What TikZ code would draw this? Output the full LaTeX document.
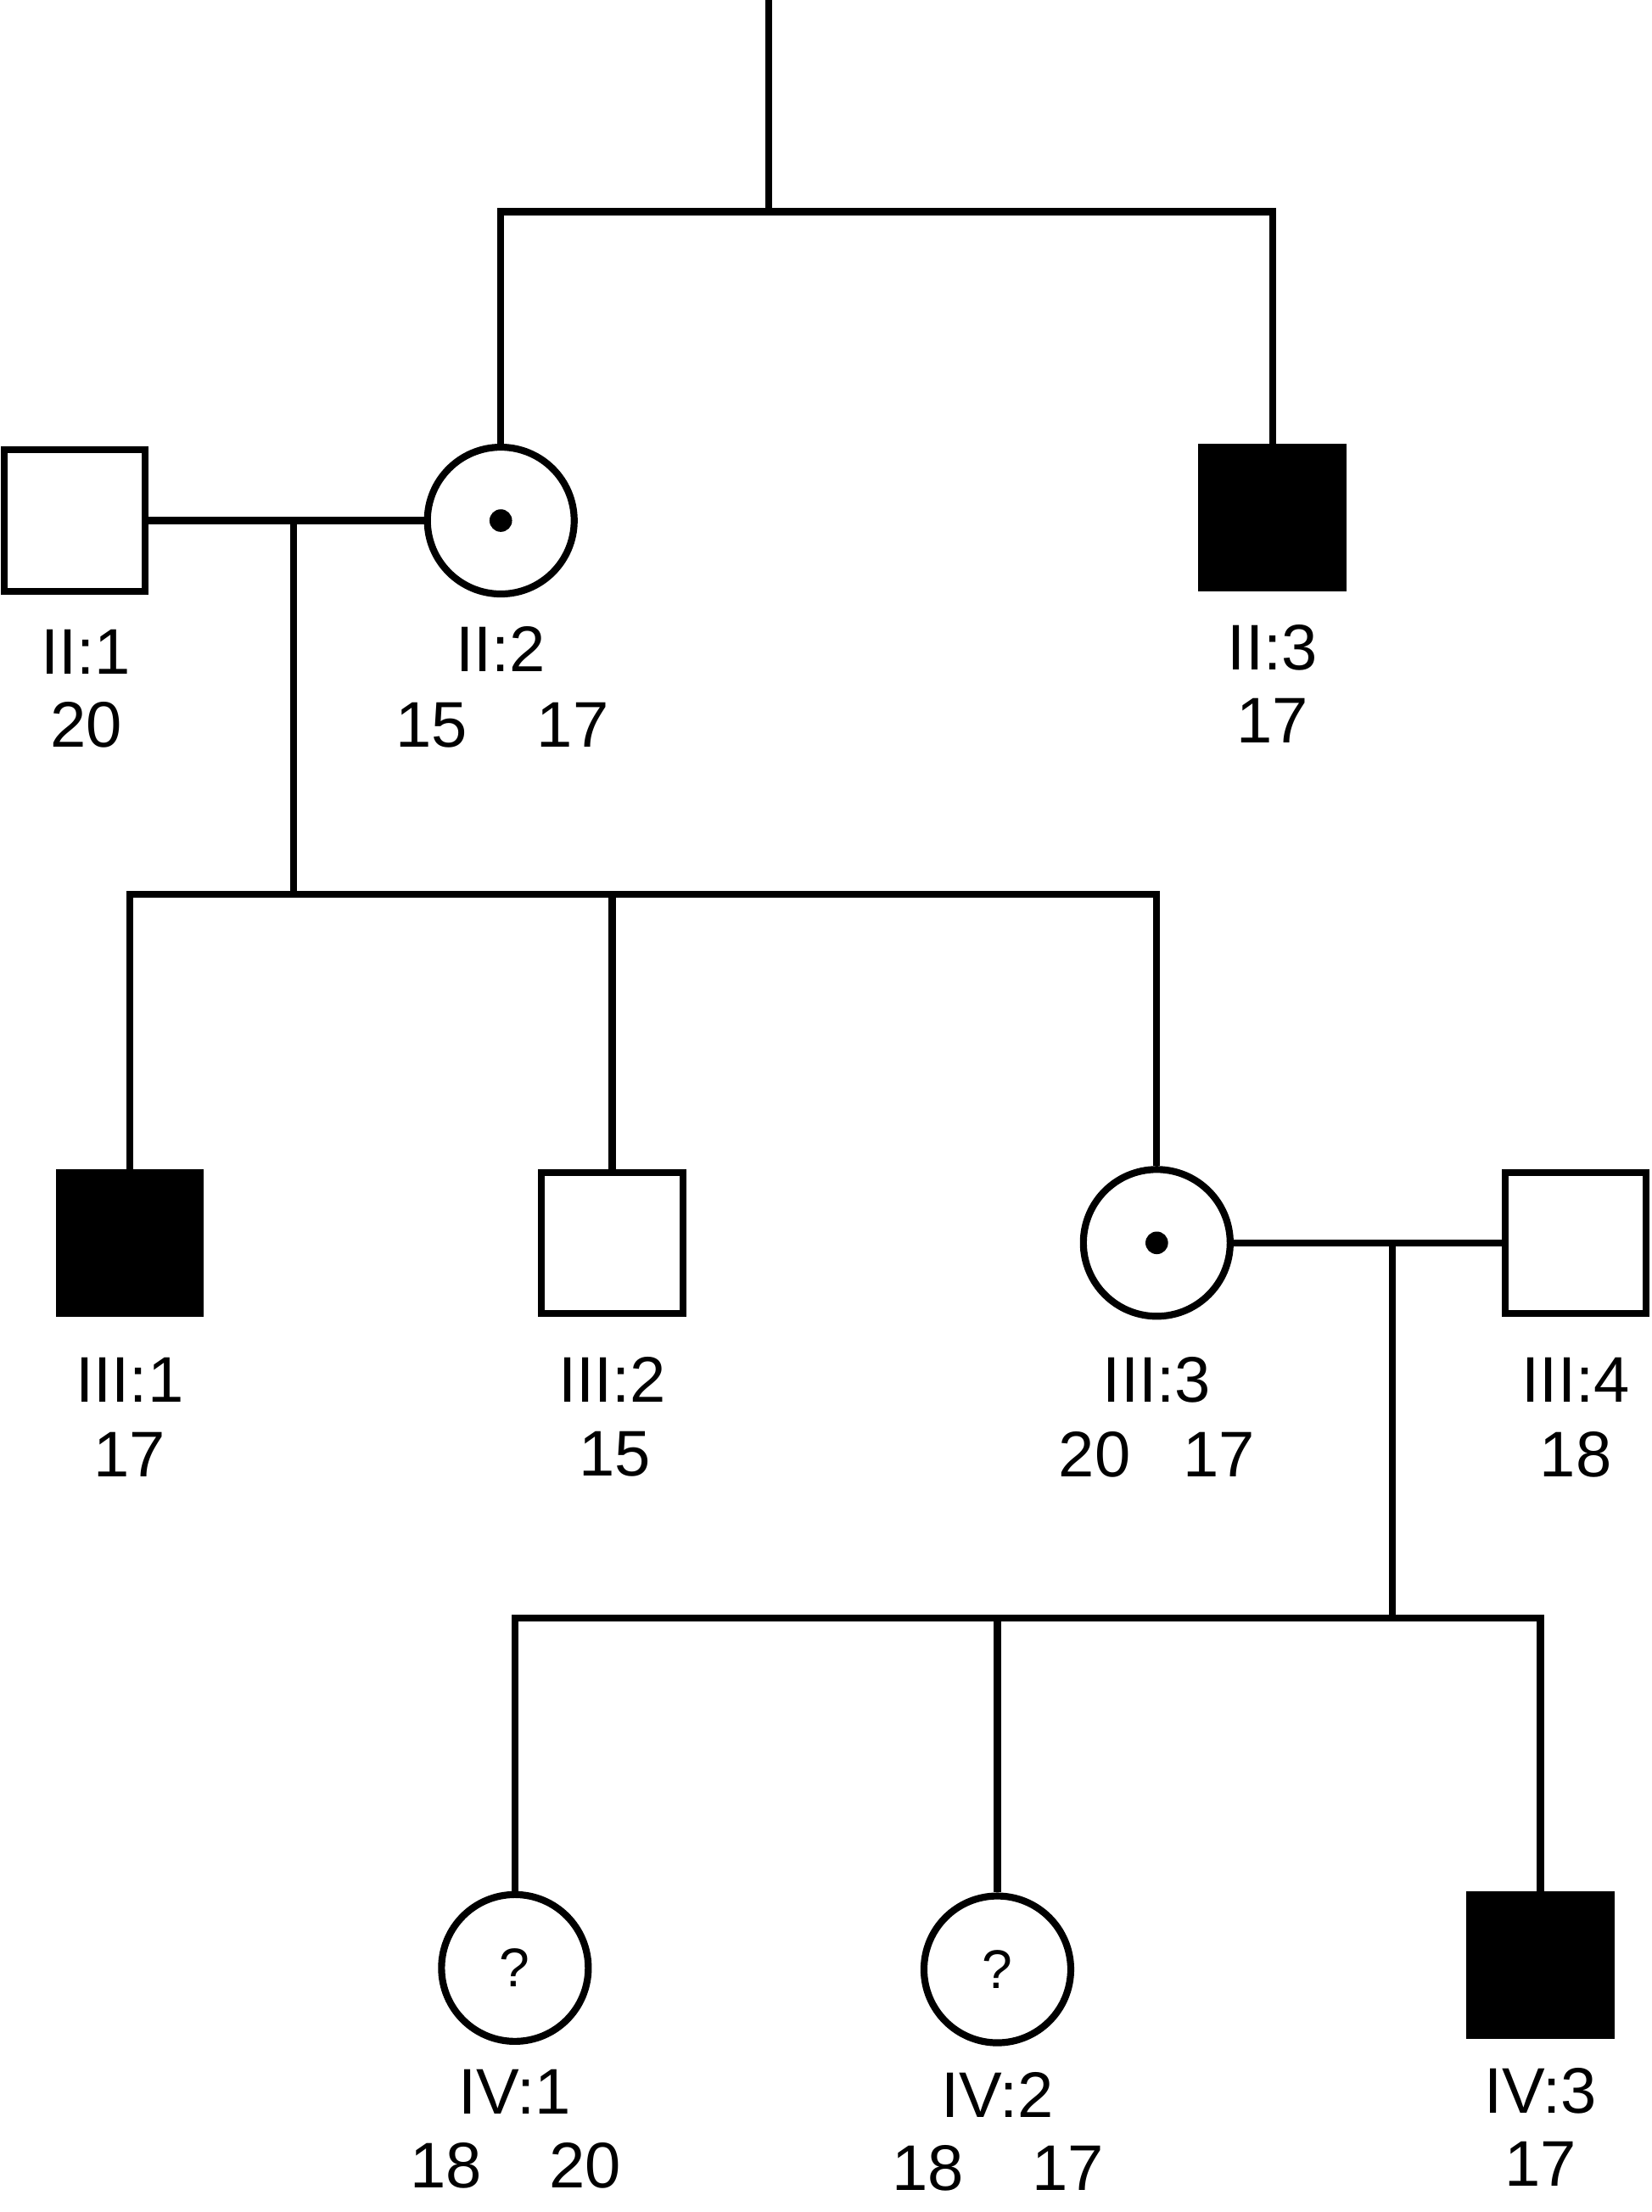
\documentclass[tikz,border=0pt]{standalone}
\usepackage{fontspec}
\setmainfont{Liberation Sans}
\usepackage{tikz}

\begin{document}
\begin{tikzpicture}
  [x=0.01cm,y=-0.01cm,line width=1.4pt,
   male/.style={rectangle,draw,minimum size=1.0cm,inner sep=0pt},
   aff/.style={male,fill=black},
   fem/.style={circle,draw,minimum size=1.04cm,inner sep=0pt,font=\fontsize{11}{13}\selectfont},
   lab/.style={inner sep=0pt,font=\fontsize{13}{15}\selectfont}]
  \useasboundingbox (0,0) rectangle (1171,1568);

  \node[male] (p21) at (53,369) {};
  \node[fem] (p22) at (355,369) {};
  \node[aff] (p23) at (902,367) {};
  \node[aff] (p31) at (92,881) {};
  \node[male] (p32) at (434,881) {};
  \node[fem] (p33) at (820,881) {};
  \node[male] (p34) at (1117,881) {};
  \node[fem] (p41) at (365,1395) {?};
  \node[fem] (p42) at (707,1396) {?};
  \node[aff] (p43) at (1092,1393) {};

  \fill (p22.center) circle (0.08cm);
  \fill (p33.center) circle (0.08cm);

  \coordinate (top) at (545,0);
  \coordinate (s1) at (545,150);
  \coordinate (s1l) at (355,150);
  \coordinate (s1r) at (902,150);
  \coordinate (m1) at (208,369);
  \coordinate (s2) at (208,634);
  \coordinate (s2l) at (92,634);
  \coordinate (s2m) at (434,634);
  \coordinate (s2r) at (820,634);
  \coordinate (m2) at (987,881);
  \coordinate (s3) at (987,1147);
  \coordinate (s3l) at (365,1147);
  \coordinate (s3m) at (707,1147);
  \coordinate (s3r) at (1092,1147);

  \draw (top) -- (s1);
  \draw (p22) -- (s1l) -- (s1r) -- (p23);
  \draw (p21) -- (p22);
  \draw (m1) -- (s2);
  \draw (p31) -- (s2l) -- (s2r) -- (p33);
  \draw (s2m) -- (p32);
  \draw (p33) -- (p34);
  \draw (m2) -- (s3);
  \draw (p41) -- (s3l) -- (s3r) -- (p43);
  \draw (s3m) -- (p42);

  \node[lab] (l21) at (61,462) {II:1};
  \node[lab] (n21) at (61,514) {20};
  \node[lab] (l22) at (355,460) {II:2};
  \node[lab] (n22a) at (306,514) {15};
  \node[lab] (n22b) at (406,514) {17};
  \node[lab] (l23) at (902,459) {II:3};
  \node[lab] (n23) at (902,511) {17};
  \node[lab] (l31) at (92,978) {III:1};
  \node[lab] (n31) at (92,1031) {17};
  \node[lab] (l32) at (434,978) {III:2};
  \node[lab] (n32) at (436,1031) {15};
  \node[lab] (l33) at (820,978) {III:3};
  \node[lab] (n33a) at (776,1031) {20};
  \node[lab] (n33b) at (864,1031) {17};
  \node[lab] (l34) at (1117,978) {III:4};
  \node[lab] (n34) at (1117,1031) {18};
  \node[lab] (l41) at (365,1483) {IV:1};
  \node[lab] (n41a) at (316,1535) {18};
  \node[lab] (n41b) at (415,1535) {20};
  \node[lab] (l42) at (707,1485) {IV:2};
  \node[lab] (n42a) at (658,1537) {18};
  \node[lab] (n42b) at (757,1537) {17};
  \node[lab] (l43) at (1092,1482) {IV:3};
  \node[lab] (n43) at (1092,1534) {17};
\end{tikzpicture}
\end{document}
